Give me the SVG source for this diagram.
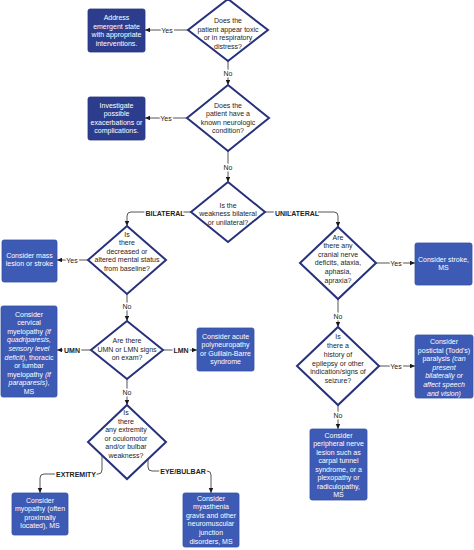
<svg xmlns="http://www.w3.org/2000/svg" width="474" height="550" viewBox="0 0 474 550">
<style>
text{font-family:"Liberation Sans",Arial,sans-serif;font-size:7px;text-anchor:middle}
.dia{fill:#fff;stroke:#27317c;stroke-width:2;stroke-linejoin:miter}
.bd{fill:#2d3d8e;stroke:#26357f;stroke-width:0.8}
.bl{fill:#3d5ab4;stroke:#3450a6;stroke-width:0.8}
.wt{fill:#fff}
.dt{fill:#1e1e1e}
.ln{fill:none;stroke:#555;stroke-width:1;marker-end:url(#ah)}
.lb{fill:#222;stroke:#fff;stroke-width:3;paint-order:stroke;stroke-linejoin:round}
.bo{font-weight:bold}
.it{font-style:italic}
</style>
<defs>
<marker id="ah" markerUnits="userSpaceOnUse" markerWidth="6" markerHeight="5" refX="5" refY="2.25" orient="auto">
<path d="M0,0 L5,2.25 L0,4.5 z" fill="#1a1a1a"/>
</marker>
</defs>

<g id="connectors">
<path class="ln" d="M188,30 H145"/>
<path class="ln" d="M228,61 V85"/>
<path class="ln" d="M187,118 H145"/>
<path class="ln" d="M228,151 V182"/>
<path class="ln" d="M191,212 H131 Q127,212 127,216 V226"/>
<path class="ln" d="M265,212 H334 Q338,212 338,216 V227"/>
<path class="ln" d="M88,260 H57"/>
<path class="ln" d="M127,294 V321"/>
<path class="ln" d="M91,350 H57"/>
<path class="ln" d="M163,350 H197"/>
<path class="ln" d="M127,379 V405"/>
<path class="ln" d="M102,455 V470 Q102,474 98,474 H44 Q40,474 40,478 V493"/>
<path class="ln" d="M148,459 V467 Q148,471 152,471 H207 Q211,471 211,475 V493"/>
<path class="ln" d="M376,263 H415"/>
<path class="ln" d="M338,299 V327"/>
<path class="ln" d="M379,366 H415"/>
<path class="ln" d="M338,405 V429"/>
<text class="lb" x="167" y="32.5">Yes</text>
<text class="lb" x="166" y="120.5">Yes</text>
<text class="lb" x="72" y="262.5">Yes</text>
<text class="lb" x="396" y="265.5">Yes</text>
<text class="lb" x="396" y="368.5">Yes</text>
<text class="lb" x="228" y="75.5">No</text>
<text class="lb" x="228" y="169.5">No</text>
<text class="lb" x="127" y="308.5">No</text>
<text class="lb" x="127" y="394.5">No</text>
<text class="lb" x="338" y="318.5">No</text>
<text class="lb" x="338" y="417.5">No</text>
<text class="lb bo" x="165" y="215.5">BILATERAL</text>
<text class="lb bo" x="297" y="215.5">UNILATERAL</text>
<text class="lb bo" x="72" y="352.5">UMN</text>
<text class="lb bo" x="181" y="352.5">LMN</text>
<text class="lb bo" x="76" y="476.5">EXTREMITY</text>
<text class="lb bo" x="183" y="473.5">EYE/BULBAR</text>
</g>

<g id="q-toxic">
<polygon class="dia" points="228,-1 268,30 228,61 188,30"/>
<text class="dt"><tspan x="228" y="23">Does the</tspan><tspan x="228" dy="8.6">patient appear toxic</tspan><tspan x="228" dy="8.6">or in respiratory</tspan><tspan x="228" dy="8.6">distress?</tspan></text>
</g>
<g id="a-emergent">
<rect class="bd" x="88" y="9" width="57" height="43" rx="2"/>
<text class="wt"><tspan x="116.5" y="20">Address</tspan><tspan x="116.5" dy="8.6">emergent state</tspan><tspan x="116.5" dy="8.6">with appropriate</tspan><tspan x="116.5" dy="8.6">interventions.</tspan></text>
</g>

<g id="q-neuro">
<polygon class="dia" points="228,85 269,118 228,151 187,118"/>
<text class="dt"><tspan x="228" y="107.5">Does the</tspan><tspan x="228" dy="8.6">patient have a</tspan><tspan x="228" dy="8.6">known neurologic</tspan><tspan x="228" dy="8.6">condition?</tspan></text>
</g>
<g id="a-investigate">
<rect class="bd" x="88" y="97" width="57" height="43" rx="2"/>
<text class="wt"><tspan x="116.5" y="107.5">Investigate</tspan><tspan x="116.5" dy="8.6">possible</tspan><tspan x="116.5" dy="8.6">exacerbations or</tspan><tspan x="116.5" dy="8.6">complications.</tspan></text>
</g>

<g id="q-bilateral">
<polygon class="dia" points="228,182 265,212 228,242 191,212"/>
<text class="dt"><tspan x="228" y="207.5">Is the</tspan><tspan x="228" dy="8.5">weakness bilateral</tspan><tspan x="228" dy="8.5">or unilateral?</tspan></text>
</g>

<g id="q-mental">
<polygon class="dia" points="127,226 166,260 127,294 88,260"/>
<text class="dt"><tspan x="127" y="236.5">Is</tspan><tspan x="127" dy="8.5">there</tspan><tspan x="127" dy="8.5">decreased or</tspan><tspan x="127" dy="8.5">altered mental status</tspan><tspan x="127" dy="8.5">from baseline?</tspan></text>
</g>
<g id="a-mass">
<rect class="bl" x="2" y="240" width="55" height="42" rx="2"/>
<text class="wt"><tspan x="29.5" y="257.5">Consider mass</tspan><tspan x="29.5" dy="8.5">lesion or stroke</tspan></text>
</g>

<g id="q-umn">
<polygon class="dia" points="127,321 163,350 127,379 91,350"/>
<text class="dt"><tspan x="127" y="343.2">Are there</tspan><tspan x="127" dy="8.5">UMN or LMN signs</tspan><tspan x="127" dy="8.5">on exam?</tspan></text>
</g>
<g id="a-myelopathy">
<rect class="bl" x="1" y="306" width="56" height="91" rx="2"/>
<text class="wt"><tspan x="29" y="316.5">Consider</tspan><tspan x="29" dy="8.6">cervical</tspan><tspan x="29" dy="8.6">myelopathy <tspan class="it">(if</tspan></tspan><tspan x="29" dy="8.6" class="it">quadriparesis,</tspan><tspan x="29" dy="8.6" class="it">sensory level</tspan><tspan x="29" dy="8.6"><tspan class="it">deficit)</tspan>, thoracic</tspan><tspan x="29" dy="8.6">or lumbar</tspan><tspan x="29" dy="8.6">myelopathy  <tspan class="it">(if</tspan></tspan><tspan x="29" dy="8.6"><tspan class="it">paraparesis)</tspan>,</tspan><tspan x="29" dy="8.6">MS</tspan></text>
</g>
<g id="a-polyneuropathy">
<rect class="bl" x="197" y="328" width="57" height="43" rx="2"/>
<text class="wt"><tspan x="225.5" y="338.5">Consider acute</tspan><tspan x="225.5" dy="8.6">polyneuropathy</tspan><tspan x="225.5" dy="8.6">or Guillain-Barre</tspan><tspan x="225.5" dy="8.6">syndrome</tspan></text>
</g>

<g id="q-extremity">
<polygon class="dia" points="127,405 166,442 127,479 88,442"/>
<text class="dt"><tspan x="126" y="415.2">Is</tspan><tspan x="126" dy="8.5">there</tspan><tspan x="126" dy="8.5">any extremity</tspan><tspan x="126" dy="8.5">or oculomotor</tspan><tspan x="126" dy="8.5">and/or bulbar</tspan><tspan x="126" dy="8.5">weakness?</tspan></text>
</g>
<g id="a-myopathy">
<rect class="bl" x="12" y="493" width="56" height="42" rx="2"/>
<text class="wt"><tspan x="40" y="502.5">Consider</tspan><tspan x="40" dy="8.6">myopathy (often</tspan><tspan x="40" dy="8.6">proximally</tspan><tspan x="40" dy="8.6">located), MS</tspan></text>
</g>
<g id="a-myasthenia">
<rect class="bl" x="183" y="493" width="56" height="54" rx="2"/>
<text class="wt"><tspan x="211" y="500.8">Consider</tspan><tspan x="211" dy="8.55">myasthenia</tspan><tspan x="211" dy="8.55">gravis and other</tspan><tspan x="211" dy="8.55">neuromuscular</tspan><tspan x="211" dy="8.55">junction</tspan><tspan x="211" dy="8.55">disorders, MS</tspan></text>
</g>

<g id="q-cranial">
<polygon class="dia" points="338,227 376,263 338,299 300,263"/>
<text class="dt"><tspan x="338" y="239.8">Are</tspan><tspan x="338" dy="8.55">there any</tspan><tspan x="338" dy="8.55">cranial nerve</tspan><tspan x="338" dy="8.55">deficits, ataxia,</tspan><tspan x="338" dy="8.55">aphasia,</tspan><tspan x="338" dy="8.55">apraxia?</tspan></text>
</g>
<g id="a-stroke">
<rect class="bl" x="415" y="243" width="57" height="42" rx="2"/>
<text class="wt"><tspan x="443.5" y="261.8">Consider stroke,</tspan><tspan x="443.5" dy="8.4">MS</tspan></text>
</g>

<g id="q-seizure">
<polygon class="dia" points="338,327 379,366 338,405 297,366"/>
<text class="dt"><tspan x="338" y="339.2">Is</tspan><tspan x="338" dy="8.8">there a</tspan><tspan x="338" dy="8.8">history of</tspan><tspan x="338" dy="8.8">epilepsy or other</tspan><tspan x="338" dy="8.8">indication/signs of</tspan><tspan x="338" dy="8.8">seizure?</tspan></text>
</g>
<g id="a-todd">
<rect class="bl" x="415" y="335" width="58" height="63" rx="2"/>
<text class="wt"><tspan x="444" y="344.2">Consider</tspan><tspan x="444" dy="8.55">postictal (Todd's)</tspan><tspan x="444" dy="8.55">paralysis <tspan class="it">(can</tspan></tspan><tspan x="444" dy="8.55" class="it">present</tspan><tspan x="444" dy="8.55" class="it">bilaterally or</tspan><tspan x="444" dy="8.55" class="it">affect speech</tspan><tspan x="444" dy="8.55" class="it">and vision)</tspan></text>
</g>
<g id="a-peripheral">
<rect class="bl" x="310" y="429" width="57" height="71" rx="2"/>
<text class="wt"><tspan x="338.5" y="437.5">Consider</tspan><tspan x="338.5" dy="8.57">peripheral nerve</tspan><tspan x="338.5" dy="8.57">lesion such as</tspan><tspan x="338.5" dy="8.57">carpal tunnel</tspan><tspan x="338.5" dy="8.57">syndrome, or a</tspan><tspan x="338.5" dy="8.57">plexopathy or</tspan><tspan x="338.5" dy="8.57">radiculopathy,</tspan><tspan x="338.5" dy="8.57">MS</tspan></text>
</g>
</svg>
